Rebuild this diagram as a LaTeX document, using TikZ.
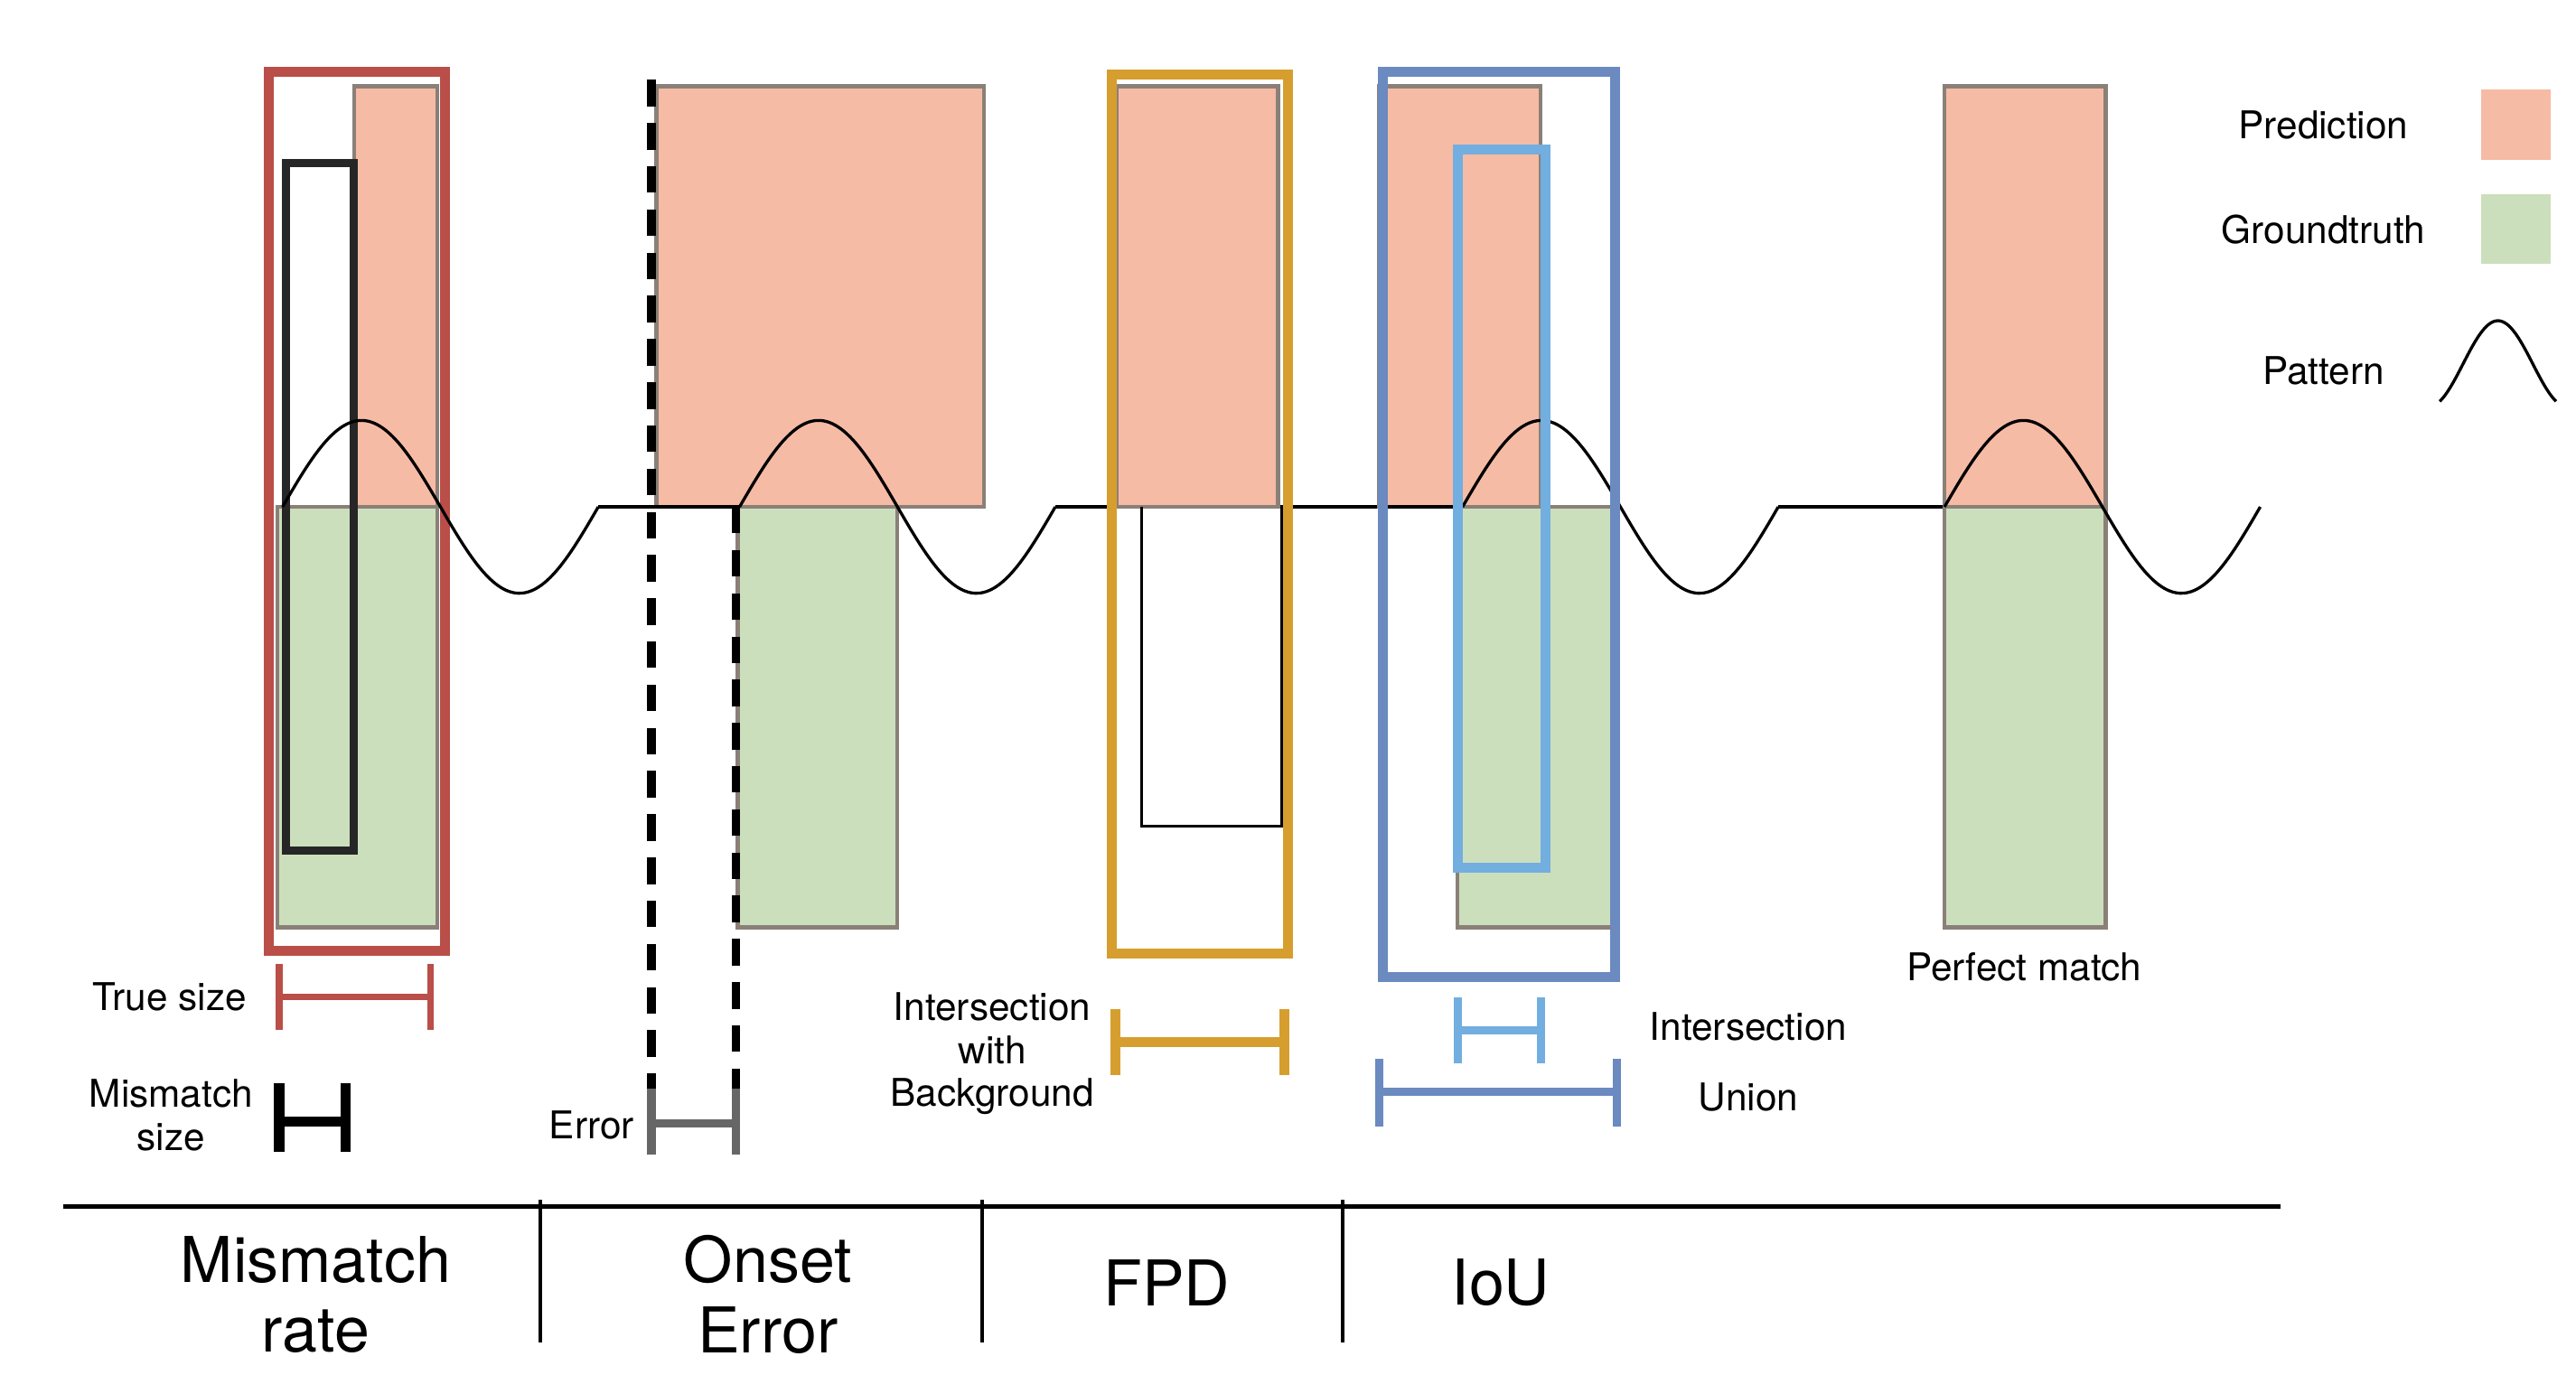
\documentclass[tikz,border=0pt]{standalone}
\usepackage{fontspec}
\setmainfont{TeX Gyre Heros}
\begin{document}
\begin{tikzpicture}[x=0.5pt,y=-0.5pt,
 pred/.style={fill=predc,draw=boxg,line width=1.2pt},
 gt/.style={fill=gtc,draw=boxg,line width=1.2pt},
 lbl/.style={font=\fontsize{11.5}{13}\selectfont,align=center},
 big/.style={font=\fontsize{19}{21}\selectfont,align=center},
 sig/.style={line width=0.9pt}]
\definecolor{predc}{HTML}{F6BBA5}
\definecolor{gtc}{HTML}{CCDFBC}
\definecolor{boxg}{HTML}{8A8078}
\definecolor{redc}{HTML}{BA4E48}
\definecolor{orc}{HTML}{D69E2E}
\definecolor{dbl}{HTML}{6A8AC0}
\definecolor{lblue}{HTML}{72AEE0}
\useasboundingbox (0,0) rectangle (1550,827);
% patterns
\draw[sig] (360,305) -- (445,305);
\draw[sig] (635,305) -- (880,305);
\draw[sig] (1070,305) -- (1170,305);
% Mismatch
\fill[predc] (213,52) rectangle (263,305);
\draw[boxg,line width=1.2pt] (213,52) rectangle (263,305);
\draw[gt] (167,305) rectangle (263,558);
\draw[line width=2.5pt,black!85] (172,98) rectangle (213,512);
\draw[redc,line width=3pt] (162,43) rectangle (268,572);
\draw[redc,line width=2pt] (168,600) -- (259,600) (168,580) -- (168,620) (259,580) -- (259,620);
\node[lbl] at (102,600) {True size};
\draw[black,line width=3pt] (168,675) -- (208,675) (168,652) -- (168,693) (208,652) -- (208,693);
\node[lbl] at (103,671) {Mismatch\\size};
\draw[sig] plot[domain=0:190,samples=80,smooth] ({170+\x},{305-52*sin(1.8947*\x)});
% Onset
\draw[pred] (395,52) rectangle (592,305);
\draw[gt] (444,305) rectangle (540,558);
\draw[sig] plot[domain=0:190,samples=80,smooth] ({445+\x},{305-52*sin(1.8947*\x)});
\draw[sig] (360,305) -- (445,305);
\draw[line width=2.5pt,dash pattern=on 8pt off 5pt] (392,48) -- (392,693);
\draw[line width=2.5pt,dash pattern=on 8pt off 5pt] (443,305) -- (443,693);
\draw[black!60,line width=2.5pt] (392,676) -- (443,676) (392,655) -- (392,695) (443,655) -- (443,695);
\node[lbl] at (356,677) {Error};
% FPD
\draw[pred] (672,52) rectangle (769,305);
\draw[sig] (687,305) -- (687,497) -- (771,497) -- (771,305);
\draw[orc,line width=3pt] (669,45) rectangle (775,574);
\draw[orc,line width=3pt] (671,627) -- (773,627) (671,607) -- (671,647) (773,607) -- (773,647);
\node[lbl] at (597,634) {Intersection\\with\\Background};
% IoU
\draw[pred] (830,52) rectangle (927,305);
\draw[gt] (877,305) rectangle (973,558);
\draw[sig] plot[domain=0:190,samples=80,smooth] ({880+\x},{305-52*sin(1.8947*\x)});
\draw[sig] (830,305) -- (880,305);
\draw[lblue,line width=3pt] (877,90) rectangle (930,522);
\draw[dbl,line width=3pt] (832,43) rectangle (972,588);
\draw[lblue,line width=2.5pt] (877,620) -- (927,620) (877,600) -- (877,640) (927,600) -- (927,640);
\draw[dbl,line width=2.5pt] (830,657) -- (973,657) (830,637) -- (830,678) (973,637) -- (973,678);
\node[lbl] at (1052,618) {Intersection};
\node[lbl] at (1052,660) {Union};
% Perfect
\draw[pred] (1170,52) rectangle (1267,305);
\draw[gt] (1170,305) rectangle (1267,558);
\draw[sig] plot[domain=0:190,samples=80,smooth] ({1170+\x},{305-52*sin(1.8947*\x)});
\node[lbl] at (1218,582) {Perfect match};
% legend
\node[lbl] at (1398,75) {Prediction};
\fill[predc] (1493,54) rectangle (1535,96);
\node[lbl] at (1398,138) {Groundtruth};
\fill[gtc] (1493,117) rectangle (1535,159);
\node[lbl] at (1398,223) {Pattern};
\draw[sig] plot[domain=-60:240,samples=60,smooth] ({1482+0.2333*\x},{219-26*sin(\x)});
% bottom
\draw[line width=1.2pt] (38,726) -- (1372,726);
\draw[line width=1.2pt] (325,722) -- (325,808) (591,722) -- (591,808) (808,722) -- (808,808);
\node[big] at (190,779) {Mismatch\\rate};
\node[big] at (462,779) {Onset\\Error};
\node[big] at (702,772) {FPD};
\node[big] at (903,772) {IoU};
\end{tikzpicture}
\end{document}
